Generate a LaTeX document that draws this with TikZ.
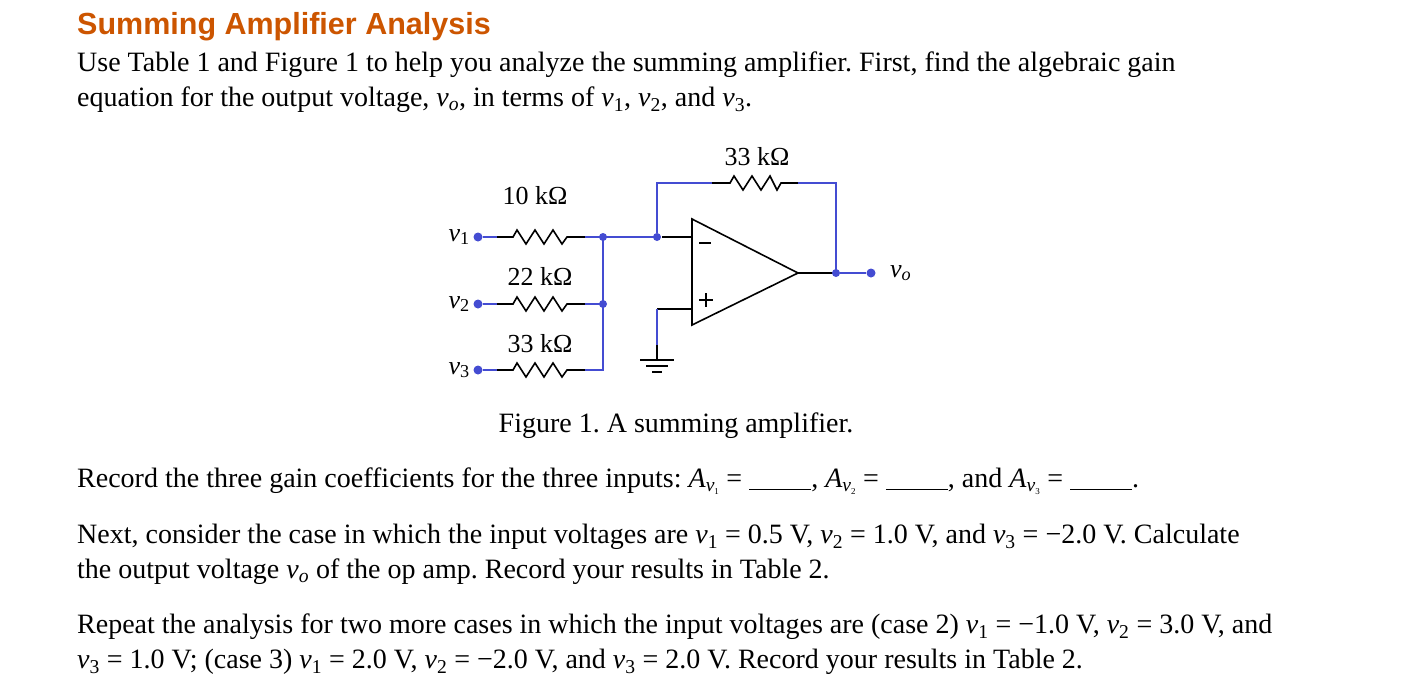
\documentclass[tikz,border=0pt]{standalone}
\usepackage{fontspec}
\setmainfont{Liberation Serif}
\newfontfamily\titlefont{Liberation Sans}
\newcommand{\vv}[1]{\textit{v}\textsubscript{#1}}
\newcommand{\Av}[1]{\textit{A}\textsubscript{\textit{v}\raisebox{-0.3ex}{\fontsize{9}{9}\selectfont #1}}}
\newcommand{\blank}{\underline{\hspace{62pt}}}
\frenchspacing
\begin{document}
\begin{tikzpicture}[x=1pt,y=-1pt,
  wb/.style={draw=wbc,line width=1.8pt},
  wk/.style={draw=black,line width=1.6pt},
  dotb/.style={circle,fill=wbc,inner sep=0pt,minimum size=9pt},
  txt/.style={anchor=west,inner sep=0pt,font=\fontsize{28}{30}\selectfont},
  lab/.style={inner sep=0pt,font=\fontsize{26}{30}\selectfont}]
\definecolor{ttl}{RGB}{204,85,0}
\definecolor{wbc}{RGB}{68,76,210}
\useasboundingbox (0,0) rectangle (1409,686);
\node[anchor=west,inner sep=0pt,text=ttl,font=\titlefont\bfseries\fontsize{30.5}{32}\selectfont] (title) at (77,27) {Summing Amplifier Analysis};
\node[txt] (l1) at (77,65) {Use Table 1 and Figure 1 to help you analyze the summing amplifier. First, find the algebraic gain};
\node[txt] (l2) at (77,100) {equation for the output voltage, \vv{\textit{o}}, in terms of \vv{1}, \vv{2}, and \vv{3}.};
% inputs
\foreach \n/\y in {1/237,2/304,3/370}{
  \node[dotb] (d\n) at (478,\y) {};
  \node[lab,anchor=east] (v\n) at (470,\y) {\vv{\n}};
  \coordinate (ra\n) at (497,\y);
  \coordinate (rb\n) at (585,\y);
  \draw[wb] (d\n) -- (ra\n);
  \draw[wk] (ra\n) -- (513,\y) -- (517,\y-7) -- (526,\y+7) -- (535,\y-7) -- (544,\y+7) -- (553,\y-7) -- (562,\y+7) -- (567,\y) -- (rb\n);
}
\coordinate (j1) at (603,237); \coordinate (j2) at (603,304); \coordinate (j3) at (603,370);
\draw[wb] (rb1) -- (j1) -- (657,237);
\draw[wb] (rb2) -- (j2); \draw[wb] (rb3) -- (j3) -- (j1);
\node[dotb,minimum size=8pt] at (j1) {}; \node[dotb,minimum size=8pt] at (j2) {};
\node[dotb,minimum size=8pt] (n1) at (657,237) {};
% feedback
\coordinate (fa) at (712,183); \coordinate (fb) at (798,183);
\draw[wb] (n1) -- (657,183) -- (fa);
\draw[wk] (fa) -- (730,183) -- (734,176) -- (743,190) -- (752,176) -- (761,190) -- (770,176) -- (777,190) -- (781,183) -- (fb);
\draw[wb] (fb) -- (836,183) -- (836,273);
% opamp
\draw[wk,line join=miter] (692,219) -- (798,273) -- (692,325) -- cycle;
\draw[line width=2.4pt] (699,243) -- (711,243);
\draw[line width=2.2pt] (699,300) -- (713,300) (706,293) -- (706,307);
\draw[wk] (662,237) -- (692,237);
\draw[wk] (657,309) -- (692,309);
\draw[wb] (657,309) -- (657,345);
\draw[wk] (657,345) -- (657,360);
\draw[wk] (640,360) -- (674,360) (646,366) -- (668,366) (652,372) -- (662,372);
\draw[wk] (798,273) -- (836,273);
\node[dotb,minimum size=8pt] (n2) at (836,273) {};
\node[dotb] (vo) at (871,273) {};
\draw[wb] (n2) -- (vo);
\node[lab,anchor=west] at (890,273) {\textit{v\textsubscript{o}}};
% labels
\node[lab] at (535,196) {10 kΩ};
\node[lab] at (540,276) {22 kΩ};
\node[lab] at (540,344) {33 kΩ};
\node[lab] at (757,157) {33 kΩ};
\node[txt,anchor=center] (cap) at (676,426) {Figure 1. A summing amplifier.};
\node[txt] (l3) at (77,481) {Record the three gain coefficients for the three inputs: \Av{1} = \blank, \Av{2} = \blank, and \Av{3} = \blank.};
\node[txt] (l4) at (77,537) {Next, consider the case in which the input voltages are \vv{1} = 0.5 V, \vv{2} = 1.0 V, and \vv{3} = −2.0 V. Calculate};
\node[txt] (l5) at (77,572) {the output voltage \vv{\textit{o}} of the op amp. Record your results in Table 2.};
\node[txt] (l6) at (77,627) {Repeat the analysis for two more cases in which the input voltages are (case 2) \vv{1} = −1.0 V, \vv{2} = 3.0 V, and};
\node[txt] (l7) at (77,662) {\vv{3} = 1.0 V; (case 3) \vv{1} = 2.0 V, \vv{2} = −2.0 V, and \vv{3} = 2.0 V. Record your results in Table 2.};
\end{tikzpicture}
\end{document}
